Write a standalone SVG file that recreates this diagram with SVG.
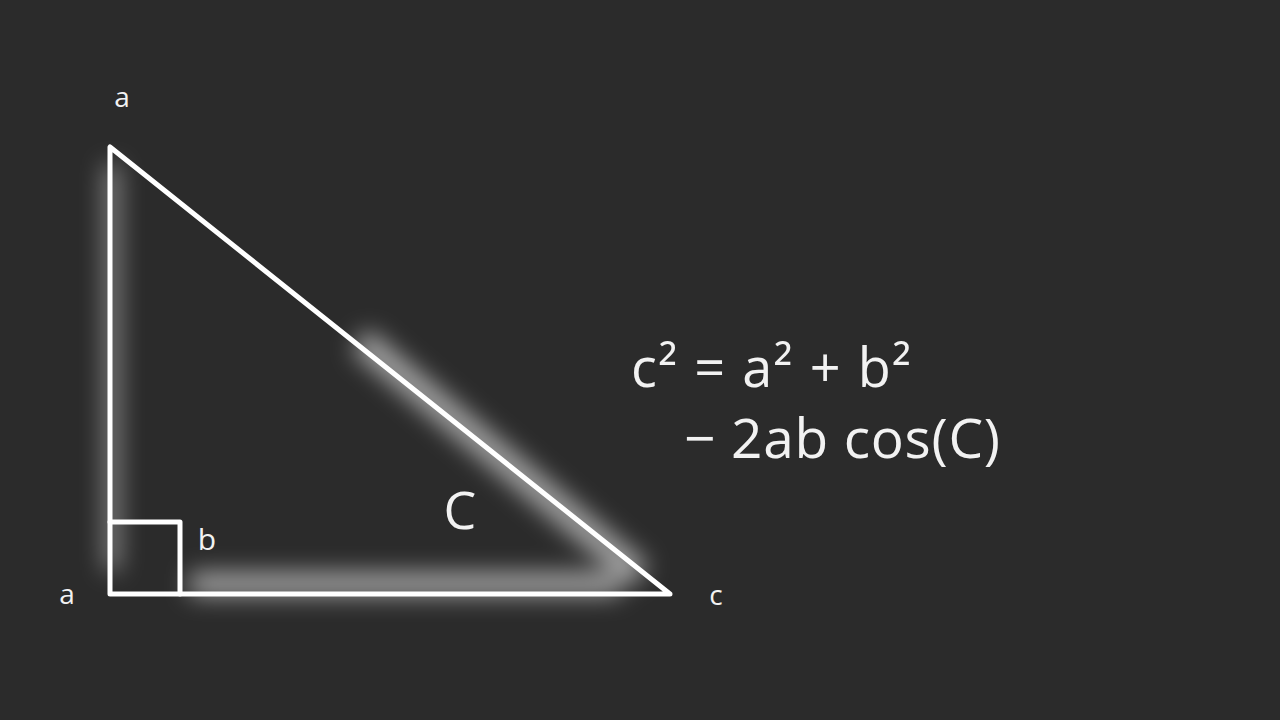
<svg xmlns="http://www.w3.org/2000/svg" width="1280" height="720" viewBox="0 0 1280 720">
<style>
.lbl{font-family:"Open Sans","Noto Sans",sans-serif;fill:#f2f2f2}
.edge{stroke:#ffffff;stroke-width:5;fill:none;stroke-linejoin:round;stroke-linecap:round}
</style>
<defs>
<filter id="glow" x="-30%" y="-30%" width="160%" height="160%">
<feGaussianBlur stdDeviation="12"/>
</filter>
</defs>
<rect width="1280" height="720" fill="#2b2b2b"/>
<g id="glow-layer" filter="url(#glow)" opacity="0.6">
<line x1="112" y1="165" x2="112" y2="570" stroke="#ffffff" stroke-width="12"/>
<line x1="360" y1="340" x2="640" y2="575" stroke="#ffffff" stroke-width="26"/>
<line x1="190" y1="584" x2="620" y2="584" stroke="#ffffff" stroke-width="22"/>
</g>
<g id="connectors">
<polygon class="edge" points="110,147 110,594 670,594"/>
<polyline class="edge" points="110,522 180,522 180,594"/>
</g>
<g id="label-a-top"><text class="lbl" x="122" y="107" font-size="28" text-anchor="middle">a</text></g>
<g id="label-a-left"><text class="lbl" x="67" y="604" font-size="28" text-anchor="middle">a</text></g>
<g id="label-b"><text class="lbl" x="207" y="550" font-size="30" text-anchor="middle">b</text></g>
<g id="label-c"><text class="lbl" x="716" y="605" font-size="28" text-anchor="middle">c</text></g>
<g id="label-C"><text class="lbl" x="460" y="529" font-size="52" text-anchor="middle">C</text></g>
<g id="formula">
<text class="lbl" x="631" y="387" font-size="54" textLength="280" lengthAdjust="spacing">c² = a² + b²</text>
<text class="lbl" x="684" y="458" font-size="55" textLength="316" lengthAdjust="spacing">− 2ab cos(C)</text>
</g>
</svg>
